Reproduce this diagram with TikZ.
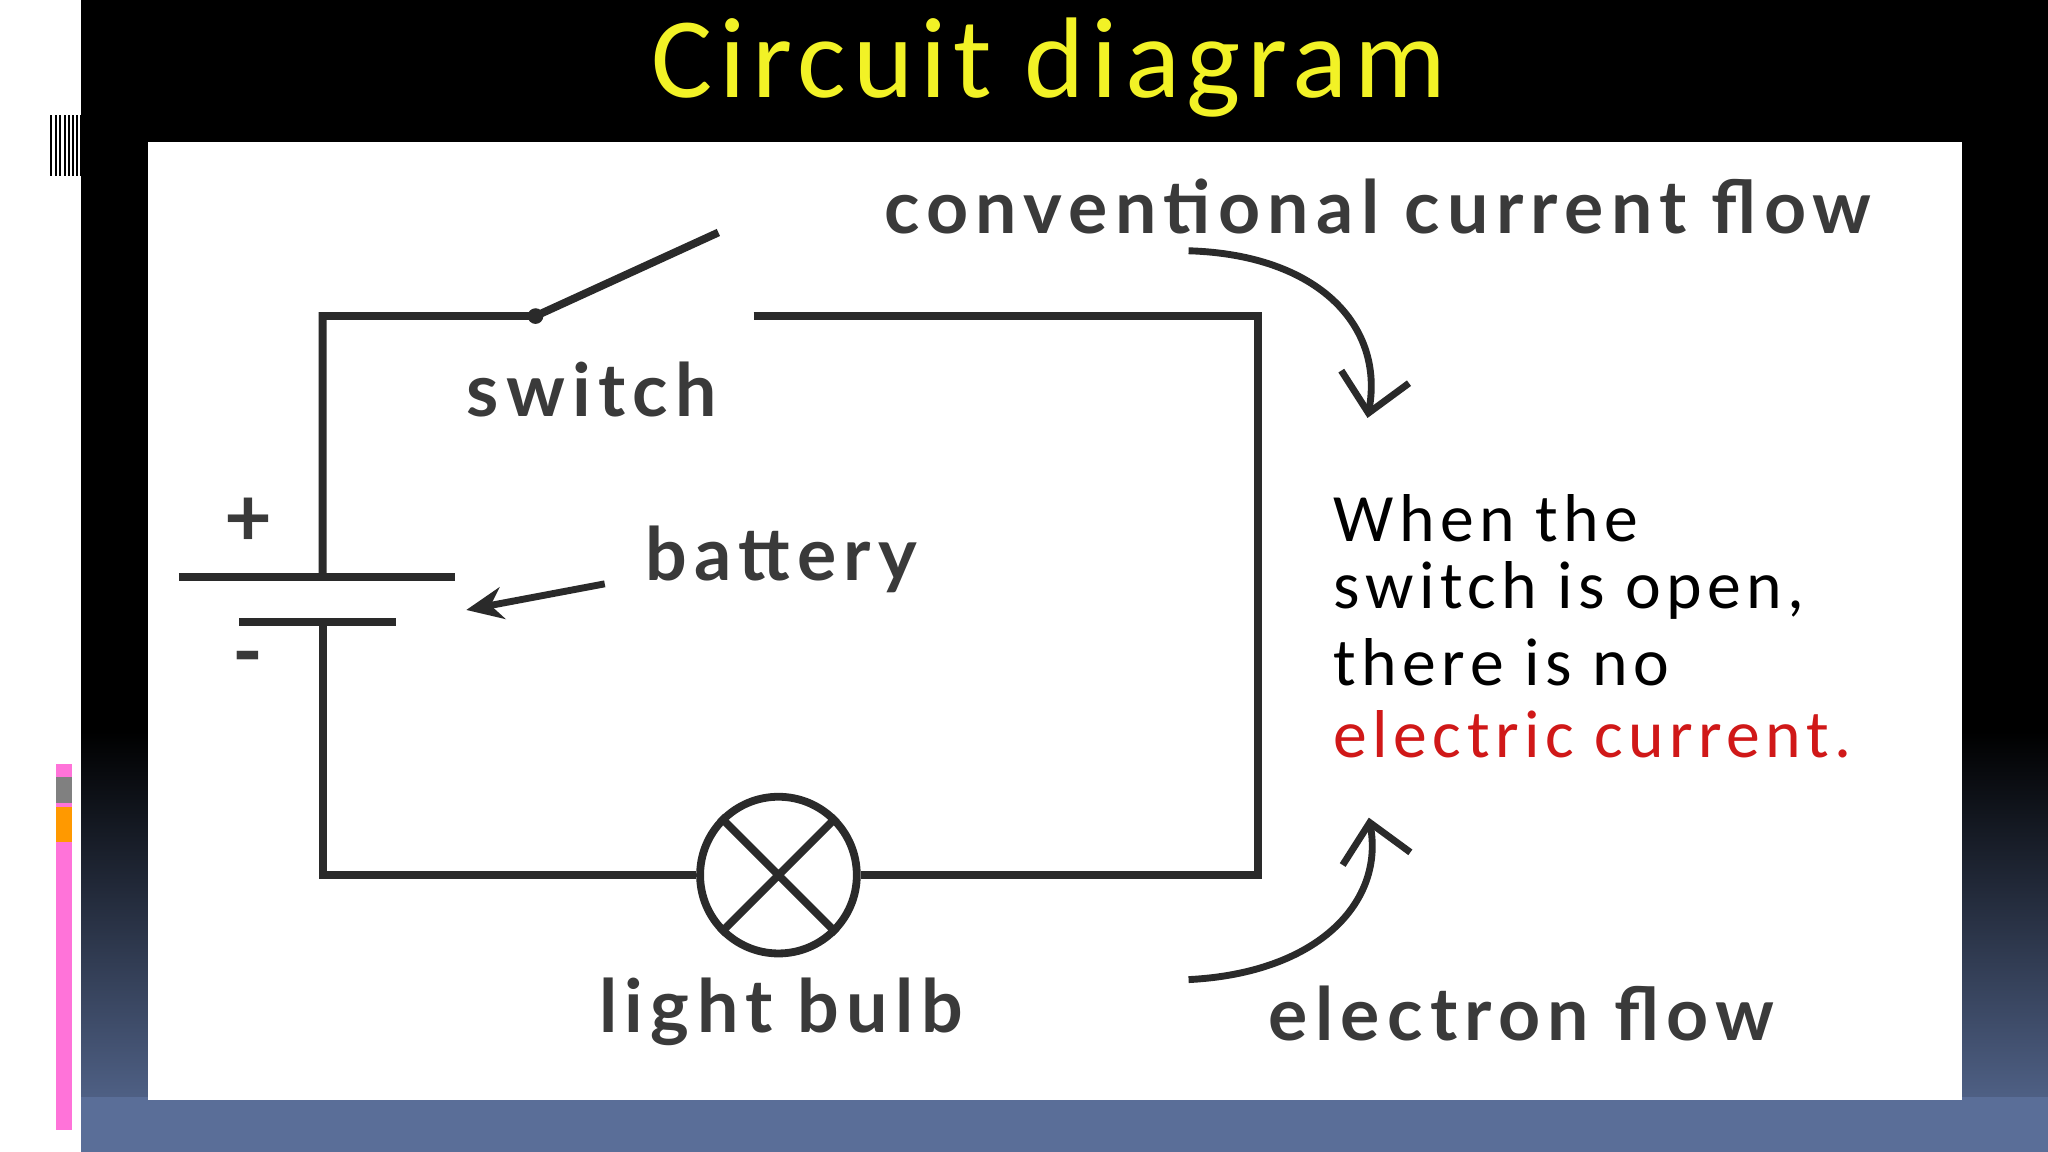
\documentclass[tikz,border=0pt]{standalone}
\usepackage{fontspec}
\setmainfont{Carlito}
\newfontfamily\gillfnt[LetterSpace=10]{Lato Bold}
\newfontfamily\infofnt[LetterSpace=8]{Carlito}
\newfontfamily\titlefnt[LetterSpace=6]{Carlito}
\usetikzlibrary{arrows.meta}
\definecolor{slate}{HTML}{5A6E98}
\definecolor{ttl}{HTML}{F2F226}
\definecolor{wire}{HTML}{2A2A2A}
\definecolor{lbl}{HTML}{3A3A3A}
\definecolor{redt}{HTML}{D01818}
\begin{document}
\begin{tikzpicture}[x=0.02cm,y=-0.02cm,
  w/.style={draw=wire,line width=3.4pt},
  lab/.style={text=lbl,font=\gillfnt\fontsize{32}{32}\selectfont},
  info/.style={font=\infofnt\fontsize{29.5}{31}\selectfont,anchor=west}]
\useasboundingbox (0,0) rectangle (1568,882);
\fill[black] (0,0) rectangle (1568,882);
\shade[top color=black,bottom color=slate] (0,560) rectangle (1568,882);
\fill[slate] (0,840) rectangle (1568,882);
\fill[white] (0,0) rectangle (62,882);
\foreach \x in {38,42,45,49,52,55,58,61} \fill[black] (\x,88) rectangle (\x+1.6,135);
\fill[pink!60!magenta] (43,585) rectangle (55,865);
\fill[gray] (43,595) rectangle (55,615);
\fill[orange!80!yellow] (43,618) rectangle (55,645);
\node[text=ttl,font=\titlefnt\fontsize{50}{50}\selectfont] (title) at (803,52) {Circuit diagram};
\fill[white] (113,109) rectangle (1502,842);
% circuit
\coordinate (tl) at (247,242); \coordinate (sw) at (410,242);
\coordinate (swe) at (550,178); \coordinate (r0) at (577,242);
\coordinate (tr) at (963,242); \coordinate (br) at (963,670);
\coordinate (bl) at (247,670); \coordinate (bp) at (247,442);
\coordinate (bn) at (247,476);
\node[circle,draw=wire,line width=3.4pt,minimum size=2.4cm] (bulb) at (596,670) {};
\draw[w] (bp) -- (tl) -- (sw) -- (swe);
\fill[wire] (sw) circle (6);
\draw[w] (r0) -- (tr) -- (br) -- (bulb.east);
\draw[w] (bulb.west) -- (bl) -- (bn);
\draw[w] (bulb.north west) -- (bulb.south east) (bulb.north east) -- (bulb.south west);
\draw[w] (137,442) -- (348,442);
\draw[w] (183,476) -- (303,476);
\node[lab,font=\gillfnt\fontsize{36}{36}\selectfont] (plus) at (190,400) {+};
\node[lab,font=\gillfnt\fontsize{36}{36}\selectfont] (minus) at (190,510) {-};
\node[lab] (swl) at (453,298) {switch};
\node[lab] (bat) at (598,428) {battery};
\node[lab] (lb) at (598,775) {light bulb};
\node[lab] (ccf) at (1055,158) {conventional current flow};
\node[lab] (ef) at (1165,776) {electron flow};
\coordinate (ba) at (357,467);
\draw[w,line width=3pt,-{Stealth[length=16pt,width=14pt]}] (463,447) -- (ba);
\coordinate (a1s) at (910,192); \coordinate (a1e) at (1047,320);
\draw[w,line width=3pt,-{Straight Barb[length=16pt,width=30pt,line width=3pt]}] (a1s) .. controls (1010,195) and (1060,250) .. (a1e);
\coordinate (a2s) at (910,750); \coordinate (a2e) at (1048,626);
\draw[w,line width=3pt,-{Straight Barb[length=16pt,width=30pt,line width=3pt]}] (a2s) .. controls (1010,745) and (1060,690) .. (a2e);
\node[info] (t1) at (1015,397) {When the};
\node[info] (t2) at (1015,452) {switch is open,};
\node[info] (t3) at (1015,507) {there is no};
\node[info,text=redt] (t4) at (1015,562) {electric current.};
\end{tikzpicture}
\end{document}
